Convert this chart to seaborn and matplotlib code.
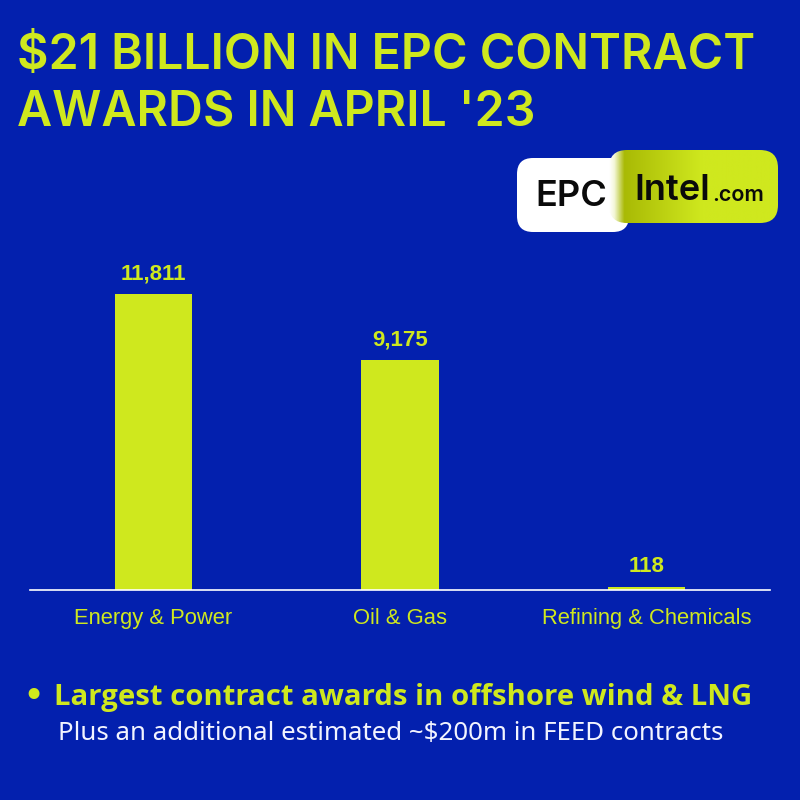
import numpy as np
import pandas as pd
import matplotlib
matplotlib.use("Agg")
import matplotlib.pyplot as plt
from matplotlib.colors import LinearSegmentedColormap
from matplotlib.patches import FancyBboxPatch
import seaborn as sns

categories = ["Energy & Power", "Oil & Gas", "Refining & Chemicals"]
values = [11811, 9175, 118]
value_labels = ["11,811", "9,175", "118"]
title_lines = ["$21 BILLION IN EPC CONTRACT", "AWARDS IN APRIL '23"]
bullet = "Largest contract awards in offshore wind & LNG"
note = "Plus an additional estimated ~$200m in FEED contracts"

BG = "#0320AE"
LIME = "#CFE81E"

sns.set_theme(style="white")
plt.rcParams['font.family'] = ['Liberation Sans', 'DejaVu Sans']

fig = plt.figure(figsize=(8, 8), dpi=100, facecolor=BG)
ax = fig.add_axes([30/800, 1-590/800, 740/800, (590-250)/800], facecolor=BG)
df = pd.DataFrame({"cat": categories, "val": values})
sns.barplot(data=df, x="cat", y="val", color=LIME, saturation=1, width=0.314, ax=ax,
            edgecolor="none", linewidth=0)
ax.set_xlim(-0.5, 2.5)
ax.set_ylim(0, 11811 * 340 / 296)
ax.set_xlabel(""); ax.set_ylabel("")
ax.set_yticks([])
for s in ["top", "left", "right"]:
    ax.spines[s].set_visible(False)
ax.spines["bottom"].set_color("white")
ax.spines["bottom"].set_linewidth(1.2)
ax.tick_params(axis="x", length=0, pad=13, labelsize=15.8, labelcolor=LIME)
for i, (v, l) in enumerate(zip(values, value_labels)):
    ax.annotate(l, (i, v), xytext=(0, 7), textcoords="offset points", ha="center", va="bottom",
                color=LIME, fontsize=16, fontweight="bold")

fig.text(17/800, 1-56/800, title_lines[0], color=LIME, fontsize=34.8, family="Inter", fontweight="semibold", va="center", ha="left")
fig.text(17/800, 1-113/800, title_lines[1], color=LIME, fontsize=34.8, family="Inter", fontweight="semibold", va="center", ha="left")

ov = fig.add_axes([0, 0, 1, 1], facecolor="none")
ov.set_xlim(0, 800); ov.set_ylim(800, 0); ov.axis("off")
white_box = FancyBboxPatch((517, 158), 112, 74, boxstyle="round,pad=0,rounding_size=16", fc="white", ec="none")
ov.add_patch(white_box)
lime_box = FancyBboxPatch((609, 150), 169, 73, boxstyle="round,pad=0,rounding_size=18", fc="none", ec="none")
ov.add_patch(lime_box)
cmap = LinearSegmentedColormap.from_list("logo", [(0, "#FFFFFF"), (0.03, "#F4F7D8"), (0.09, "#A9BA05"), (0.55, "#CFE81E"), (1, "#CFE81E")])
grad = ov.imshow(np.linspace(0, 1, 256).reshape(1, -1), extent=(609, 778, 223, 150), cmap=cmap, aspect="auto", zorder=2)
grad.set_clip_path(lime_box)
ov.set_xlim(0, 800); ov.set_ylim(800, 0)
ov.text(571, 197, "EPC", color="#0A0A0A", fontsize=26, fontweight="semibold", ha="center", va="center", family="Inter", zorder=3)
ov.text(634, 190, "Intel", color="#0A0A0A", fontsize=26, fontweight="semibold", ha="left", va="center", family="Inter", zorder=3)
ov.text(712, 195, ".com", color="#0A0A0A", fontsize=15.5, fontweight="semibold", ha="left", va="center", family="Inter", zorder=3)
ov.text(33, 698, "\u2022", color=LIME, fontsize=27, ha="center", va="center", family="DejaVu Sans")
ov.text(54, 697, bullet, color=LIME, fontsize=21.1, fontweight="bold", ha="left", va="center", family="Open Sans")
ov.text(58, 734, note, color="#F2F4FF", fontsize=18.6, ha="left", va="center", family="Noto Sans")

fig.savefig("out.png", dpi=100, facecolor=BG)
